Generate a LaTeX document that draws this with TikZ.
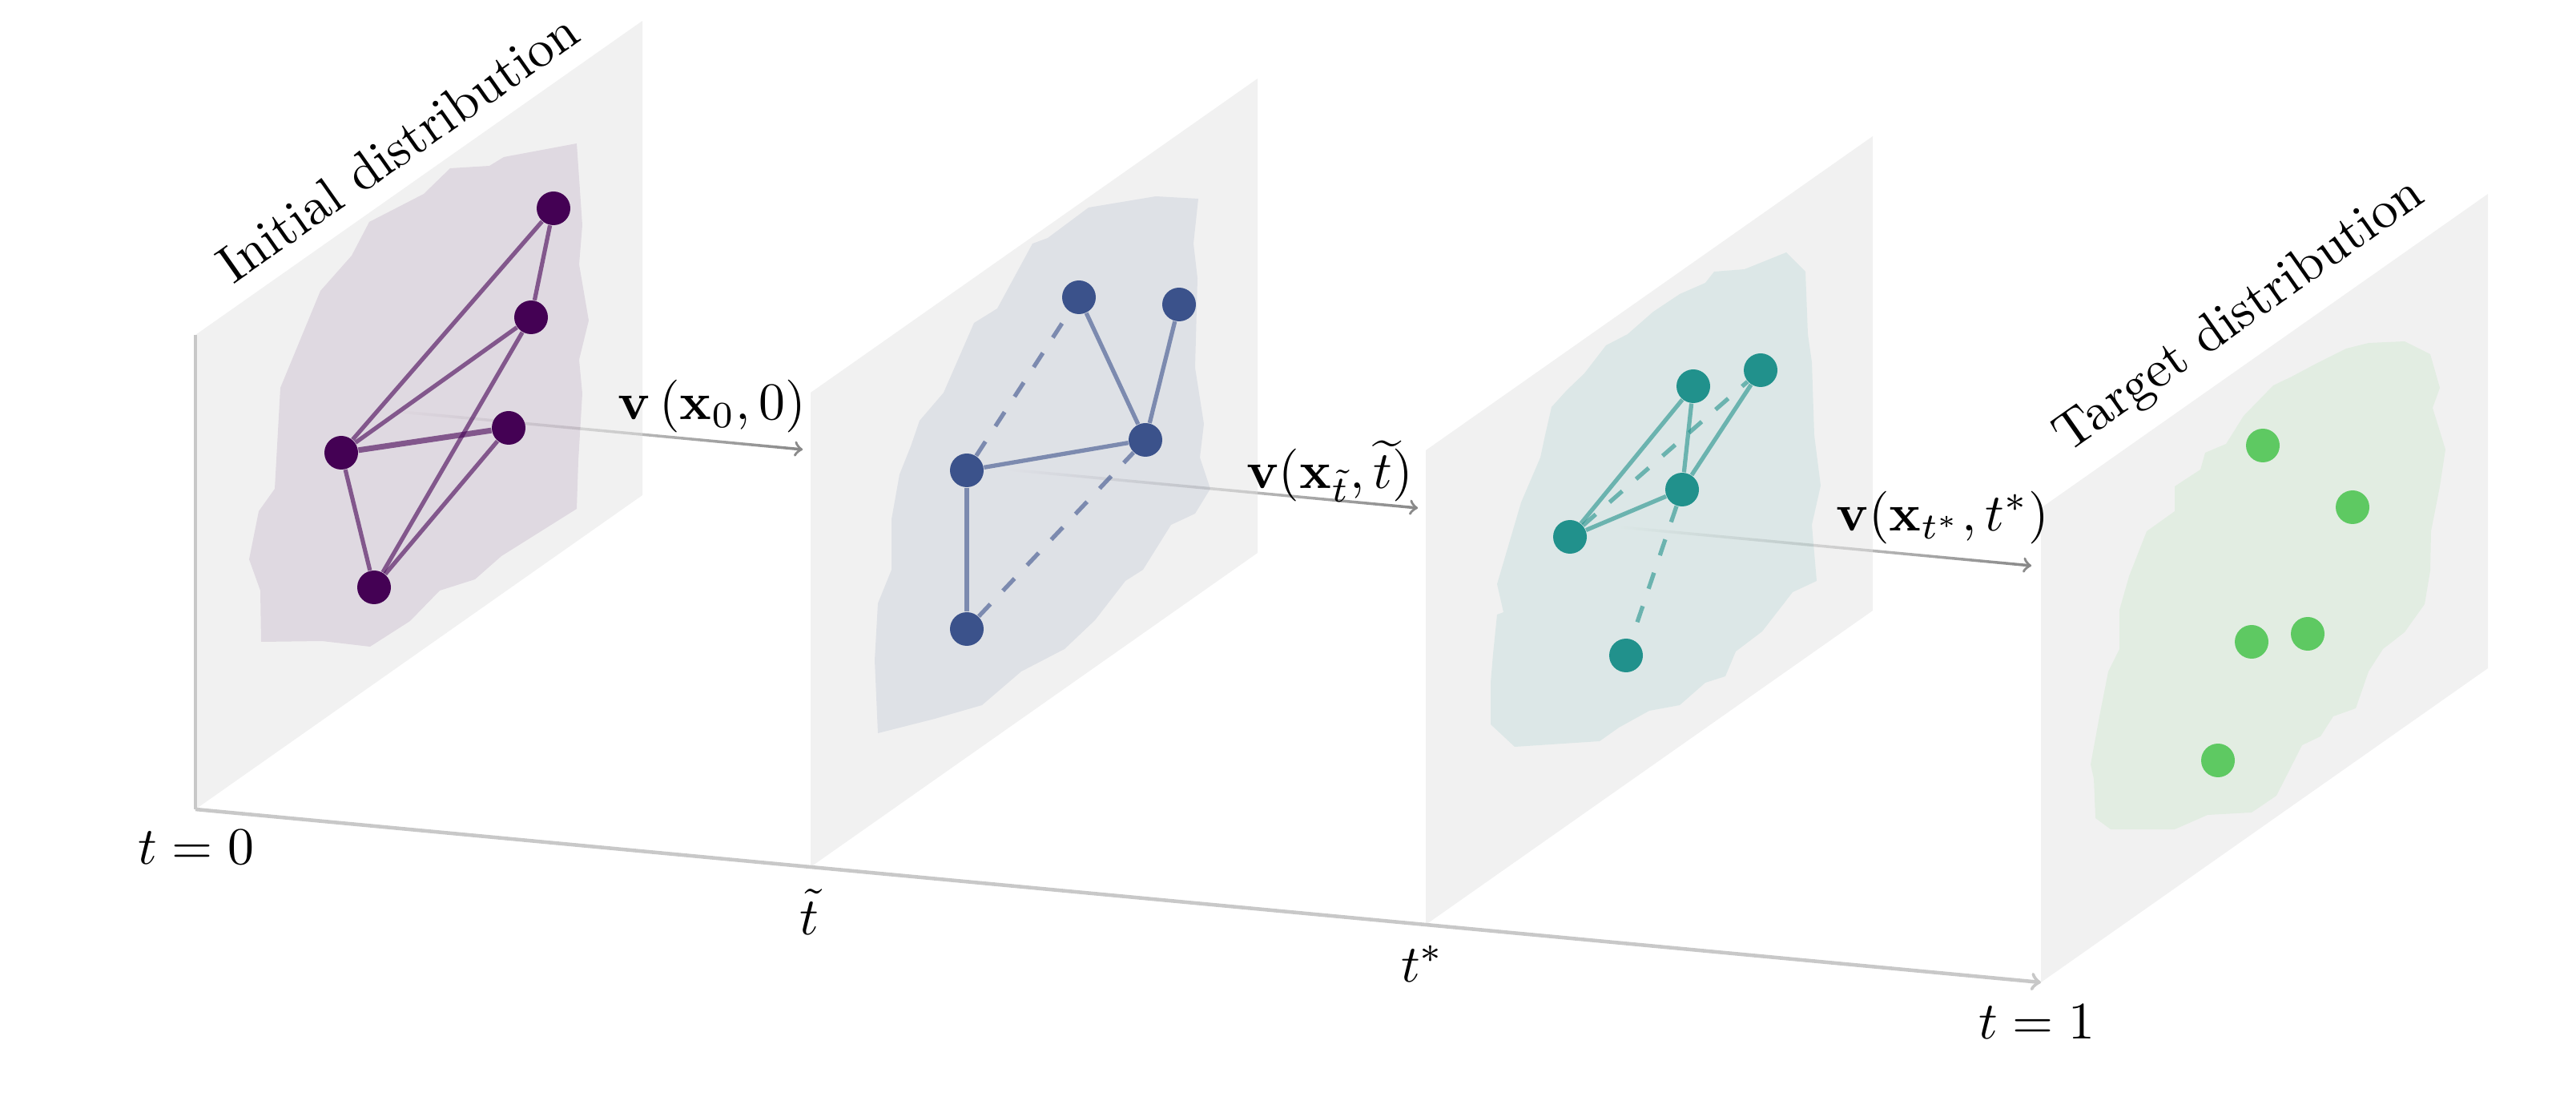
\RequirePackage{fix-cm}
\documentclass[tikz,border=0pt]{standalone}
\usetikzlibrary{fadings}
\definecolor{vpurple}{HTML}{440154}
\definecolor{vblue}{HTML}{3B528B}
\definecolor{vteal}{HTML}{21918C}
\definecolor{vgreen}{HTML}{5EC962}
\definecolor{planegray}{HTML}{E0E0E0}
\definecolor{axisgray}{HTML}{C8C8C8}
\definecolor{flowgray}{HTML}{888888}
\begin{document}
\begin{tikzpicture}[>=to,
    lbl/.style={font=\fontsize{10}{12}\selectfont, scale=1.87},
    plane/.style={fill=planegray, fill opacity=0.45},
    blob/.style={fill=#1, fill opacity=0.1},
    sample/.style={circle, fill=#1, inner sep=0pt, minimum size=0.42cm},
    link/.style={draw=#1, draw opacity=0.6, line width=1.5pt},
    dlink/.style={link=#1, dash pattern=on 6pt off 6.5pt},
    axis/.style={draw=axisgray, line width=1.3pt},
    flow/.style={draw=flowgray, line width=1pt, ->, path fading=west},
    ptitle/.style={lbl, midway, above, sloped}]
    \useasboundingbox (0,0) rectangle (32.16,13.88);
    % Trường vận tốc
    \coordinate (vs0) at (4.90,8.75);   \coordinate (ve0) at (10.02,8.27);
    \coordinate (vs1) at (12.58,8.02);  \coordinate (ve1) at (17.70,7.54);
    \coordinate (vs2) at (20.24,7.30);  \coordinate (ve2) at (25.36,6.82);
    \foreach \k in {0,1,2} {
        \draw[flow] (vs\k) -- (ve\k);
    }
    % Các mặt phẳng
    \foreach \k in {0,...,3} {
        \coordinate (b\k) at ({2.44+7.68*\k},{3.78-0.72*\k});
        \path (b\k) ++(0,5.92) coordinate (tl\k) ++(5.58,3.92) coordinate (tr\k);
        \fill[plane] (b\k) -- (tl\k) -- (tr\k) -- ++(0,-5.92) -- cycle;
    }
    % Phân phối
    \fill[blob=vpurple] (7.20,12.09) -- (7.27,11.07) -- (7.23,10.58) -- (7.35,9.88)
        -- (7.23,9.39) -- (7.27,8.97) -- (7.22,8.13) -- (7.20,7.53) -- (6.26,6.94)
        -- (5.93,6.65) -- (5.49,6.51) -- (5.12,6.13) -- (4.62,5.81) -- (4.02,5.88)
        -- (3.26,5.87) -- (3.25,6.51) -- (3.11,6.90) -- (3.23,7.50) -- (3.43,7.78)
        -- (3.50,9.04) -- (4.00,10.25) -- (4.39,10.69) -- (4.61,11.11) -- (5.29,11.46)
        -- (5.62,11.78) -- (6.11,11.81) -- (6.29,11.92) -- cycle;
    \fill[blob=vblue] (14.96,11.40) -- (14.90,10.84) -- (14.95,10.41) -- (14.92,9.29)
        -- (15.03,8.59) -- (14.98,8.17) -- (15.11,7.78) -- (14.92,7.47) -- (14.62,7.33)
        -- (14.27,6.77) -- (14.05,6.63) -- (13.67,6.14) -- (13.29,5.78) -- (12.75,5.50)
        -- (12.26,5.08) -- (11.67,4.91) -- (10.96,4.73) -- (10.92,5.64) -- (10.96,6.35)
        -- (11.13,6.77) -- (11.13,7.40) -- (11.23,7.96) -- (11.37,8.31) -- (11.48,8.63)
        -- (11.78,8.98) -- (12.16,9.85) -- (12.45,10.03) -- (12.89,10.84) -- (13.08,10.91)
        -- (13.59,11.29) -- (14.43,11.43) -- cycle;
    \fill[blob=vteal] (22.30,10.73) -- (22.54,10.49) -- (22.57,9.71) -- (22.62,9.36)
        -- (22.65,8.45) -- (22.73,7.82) -- (22.62,7.33) -- (22.68,6.63) -- (22.38,6.49)
        -- (22.00,6.00) -- (21.67,5.75) -- (21.54,5.44) -- (21.29,5.36) -- (20.97,5.08)
        -- (20.59,5.01) -- (20.21,4.80) -- (19.97,4.63) -- (18.91,4.56) -- (18.61,4.84)
        -- (18.61,5.36) -- (18.64,5.72) -- (18.69,6.21) -- (18.77,6.24) -- (18.69,6.59)
        -- (18.99,7.61) -- (19.23,8.17) -- (19.29,8.45) -- (19.37,8.80) -- (19.56,9.01)
        -- (19.78,9.22) -- (20.05,9.57) -- (20.32,9.71) -- (20.64,9.99) -- (20.97,10.21)
        -- (21.29,10.35) -- (21.40,10.49) -- (21.78,10.52) -- cycle;
    \fill[blob=vgreen] (30.02,9.62) -- (30.34,9.46) -- (30.46,9.04) -- (30.37,8.79)
        -- (30.53,8.27) -- (30.46,7.81) -- (30.35,7.25) -- (30.34,6.76) -- (30.27,6.34)
        -- (30.02,5.99) -- (29.75,5.78) -- (29.57,5.50) -- (29.41,5.04) -- (29.13,4.94)
        -- (28.97,4.69) -- (28.74,4.58) -- (28.42,3.95) -- (28.11,3.74) -- (27.56,3.71)
        -- (27.15,3.53) -- (26.35,3.53) -- (26.16,3.67) -- (26.14,4.16) -- (26.10,4.34)
        -- (26.21,4.94) -- (26.32,5.50) -- (26.46,5.78) -- (26.46,6.27) -- (26.58,6.69)
        -- (26.80,7.25) -- (27.15,7.50) -- (27.15,7.81) -- (27.47,8.02) -- (27.53,8.23)
        -- (27.79,8.34) -- (28.01,8.69) -- (28.38,9.07) -- (28.61,9.18) -- (28.93,9.35)
        -- (29.29,9.53) -- (29.57,9.60) -- cycle;
    % Trục thời gian
    \draw[axis] (b0) -- (tl0);
    \draw[axis, ->] (b0) -- (b3);
    \node[lbl] (lt0) at (2.45,3.31) {$t=0$};
    \node[lbl] (ltt) at (10.10,2.50) {$\tilde{t}$};
    \node[lbl] (lts) at (17.76,1.85) {$t^*$};
    \node[lbl] (lt1) at (25.43,1.13) {$t=1$};
    \path (tl0) -- (tr0) node[ptitle] (init) {Initial distribution};
    \path (tl3) -- (tr3) node[ptitle] (targ) {Target distribution};
    % Các điểm mẫu
    \node[sample=vpurple] (i1) at (6.91,11.28) {};
    \node[sample=vpurple] (i2) at (6.63,9.92) {};
    \node[sample=vpurple] (i3) at (6.35,8.54) {};
    \node[sample=vpurple] (i4) at (4.26,8.23) {};
    \node[sample=vpurple] (i5) at (4.67,6.55) {};
    \node[sample=vblue] (m1) at (13.47,10.17) {};
    \node[sample=vblue] (m2) at (14.72,10.08) {};
    \node[sample=vblue] (m3) at (14.30,8.39) {};
    \node[sample=vblue] (m4) at (12.07,8.01) {};
    \node[sample=vblue] (m5) at (12.07,6.03) {};
    \node[sample=vteal] (s1) at (21.14,9.06) {};
    \node[sample=vteal] (s2) at (21.98,9.26) {};
    \node[sample=vteal] (s3) at (21.00,7.77) {};
    \node[sample=vteal] (s4) at (19.60,7.18) {};
    \node[sample=vteal] (s5) at (20.30,5.70) {};
    \node[sample=vgreen] (g1) at (28.25,8.32) {};
    \node[sample=vgreen] (g2) at (29.37,7.55) {};
    \node[sample=vgreen] (g3) at (28.11,5.87) {};
    \node[sample=vgreen] (g4) at (28.81,5.97) {};
    \node[sample=vgreen] (g5) at (27.69,4.39) {};
    % Các cạnh
    \foreach \a/\b in {i1/i2, i1/i4, i2/i4, i2/i5, i3/i5, i4/i5} {
        \draw[link=vpurple] (\a) -- (\b);
    }
    \draw[link=vpurple, line width=2pt] (i3) -- (i4);
    \foreach \a/\b in {m1/m3, m2/m3, m3/m4, m4/m5} {
        \draw[link=vblue] (\a) -- (\b);
    }
    \draw[dlink=vblue] (m4) -- (m1);
    \draw[dlink=vblue] (m5) -- (m3);
    \foreach \a/\b in {s4/s1, s1/s3, s3/s2, s4/s3} {
        \draw[link=vteal] (\a) -- (\b);
    }
    \draw[dlink=vteal] (s4) -- (s2);
    \draw[dlink=vteal] (s3) -- (s5);
    % Nhãn vận tốc
    \node[lbl] (v0) at (8.885,8.81) {$\mathbf{v}\left(\mathbf{x}_0, 0\right)$};
    \node[lbl] (v1) at (16.60,8.00) {$\mathbf{v}(\mathbf{x}_{\tilde{t}}, \widetilde{t})$};
    \node[lbl] (v2) at (24.25,7.42) {$\mathbf{v}(\mathbf{x}_{t^*}, t^*)$};
\end{tikzpicture}
\end{document}
